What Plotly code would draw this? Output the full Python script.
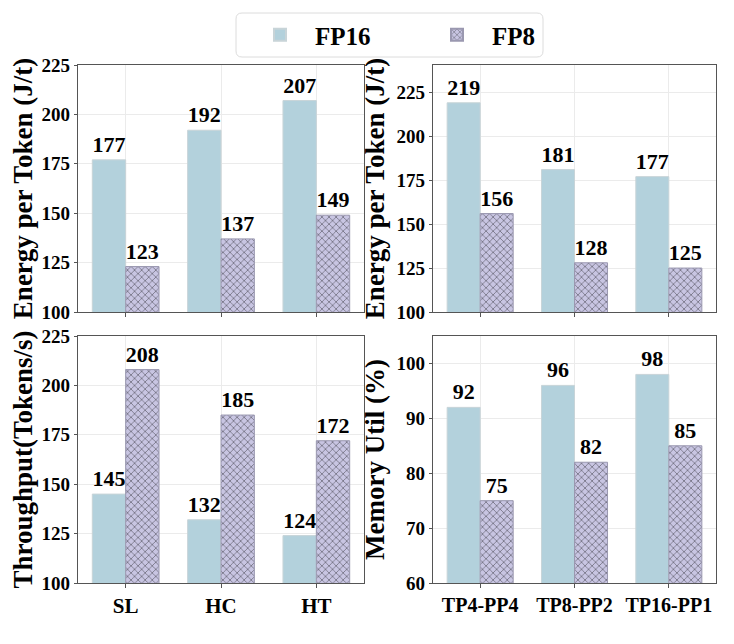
import plotly.graph_objects as go
from plotly.subplots import make_subplots

# ---- data ----
workloads = ["SL", "HC", "HT"]
parallel = ["TP4-PP4", "TP8-PP2", "TP16-PP1"]

energy_wl_fp16 = [177, 192, 207]
energy_wl_fp8 = [123, 137, 149]
thru_wl_fp16 = [145, 132, 124]
thru_wl_fp8 = [208, 185, 172]

energy_par_fp16 = [219, 181, 177]
energy_par_fp8 = [156, 128, 125]
mem_par_fp16 = [92, 96, 98]
mem_par_fp8 = [75, 82, 85]

FONT = "Liberation Serif"
C16 = "#b3d1dc"
C8 = "#c8c5e2"
W, H = 734, 644
OFF = 8  # page body margin


def px(x):
    return (x - OFF) / W


def py(y):
    return 1 - (y - OFF) / H


fig = make_subplots(rows=2, cols=2)

panels = [
    (1, 1, workloads, energy_wl_fp16, energy_wl_fp8),
    (2, 1, workloads, thru_wl_fp16, thru_wl_fp8),
    (1, 2, parallel, energy_par_fp16, energy_par_fp8),
    (2, 2, parallel, mem_par_fp16, mem_par_fp8),
]

first = True
for r, c, cats, v16, v8 in panels:
    fig.add_trace(go.Bar(
        x=cats, y=v16, name="FP16", legendgroup="FP16", showlegend=first,
        marker=dict(color=C16, line=dict(color="#c8d4d8", width=1)),
        text=[str(v) for v in v16], textposition="outside", cliponaxis=False,
        textfont=dict(family=FONT, size=22, color="black", weight="bold"),
    ), row=r, col=c)
    fig.add_trace(go.Bar(
        x=cats, y=v8, name="FP8", legendgroup="FP8", showlegend=first,
        marker=dict(color=C8, line=dict(color="#9a98b0", width=1),
                    pattern=dict(shape="x", fgcolor="#45454f", bgcolor=C8,
                                 size=5, solidity=0.2, fillmode="replace")),
        text=[str(v) for v in v8], textposition="outside", cliponaxis=False,
        textfont=dict(family=FONT, size=22, color="black", weight="bold"),
    ), row=r, col=c)
    first = False

# domains (page pixel positions)
xl = [px(78), px(364)]
xr = [px(433), px(716)]
yt = [py(312), py(65)]
yb = [py(583), py(336)]

axis_common = dict(showline=True, linecolor="#555555", linewidth=1.2, mirror=True,
                   showgrid=True, gridcolor="#ebebeb", gridwidth=1, zeroline=False,
                   automargin=False, ticks="outside", ticklen=4, tickcolor="#555555")
xcommon = dict(axis_common,
               tickfont=dict(family=FONT, size=21, color="black", weight="bold"),
               range=[-0.5, 2.5])
ycommon = dict(axis_common, ticklen=3,
               tickfont=dict(family=FONT, size=19, color="black", weight="bold"),
               title_font=dict(family=FONT, size=27, color="black", weight="bold"),
               title_standoff=4)

fig.update_xaxes(xcommon)
fig.update_yaxes(ycommon)

fig.update_xaxes(domain=xl, showticklabels=False, row=1, col=1)
fig.update_xaxes(domain=xl, row=2, col=1)
fig.update_xaxes(domain=xr, showticklabels=False, row=1, col=2)
fig.update_xaxes(domain=xr, tickfont=dict(size=20), row=2, col=2)

fig.update_yaxes(domain=yt, range=[100, 225], tickvals=[100, 125, 150, 175, 200, 225],
                 title_text="Energy per Token (J/t)", row=1, col=1)
fig.update_yaxes(domain=yb, range=[100, 225], tickvals=[100, 125, 150, 175, 200, 225],
                 title_text="Throughput(Tokens/s)", row=2, col=1)
fig.update_yaxes(domain=yt, range=[100, 240.5], tickvals=[100, 125, 150, 175, 200, 225],
                 title_text="Energy per Token (J/t)", row=1, col=2)
fig.update_yaxes(domain=yb, range=[60, 105], tickvals=[60, 70, 80, 90, 100],
                 title_text="Memory Util (%)", row=2, col=2)

# legend frame (rounded box)
x0, x1, y0, y1, rr = px(236), px(543), py(13), py(57), 6 / W
ry = 6 / H
path = (f"M {x0+rr},{y0} L {x1-rr},{y0} Q {x1},{y0} {x1},{y0-ry} "
        f"L {x1},{y1+ry} Q {x1},{y1} {x1-rr},{y1} L {x0+rr},{y1} "
        f"Q {x0},{y1} {x0},{y1+ry} L {x0},{y0-ry} Q {x0},{y0} {x0+rr},{y0} Z")
fig.add_shape(type="path", path=path, xref="paper", yref="paper",
              line=dict(color="#dcdcdc", width=1), fillcolor="rgba(0,0,0,0)")

fig.update_layout(
    width=W, height=H,
    margin=dict(l=0, r=0, t=0, b=0, autoexpand=False),
    paper_bgcolor="white", plot_bgcolor="white",
    barmode="group", bargap=0.3, bargroupgap=0,
    font=dict(family=FONT, color="black"),
    legend=dict(orientation="h", x=px(245), y=py(35), xanchor="left", yanchor="middle",
                font=dict(family=FONT, size=25, color="black", weight="bold"),
                borderwidth=0, bgcolor="rgba(0,0,0,0)",
                itemwidth=60, entrywidth=102, itemsizing="constant"),
)

fig.write_html("out.html")
